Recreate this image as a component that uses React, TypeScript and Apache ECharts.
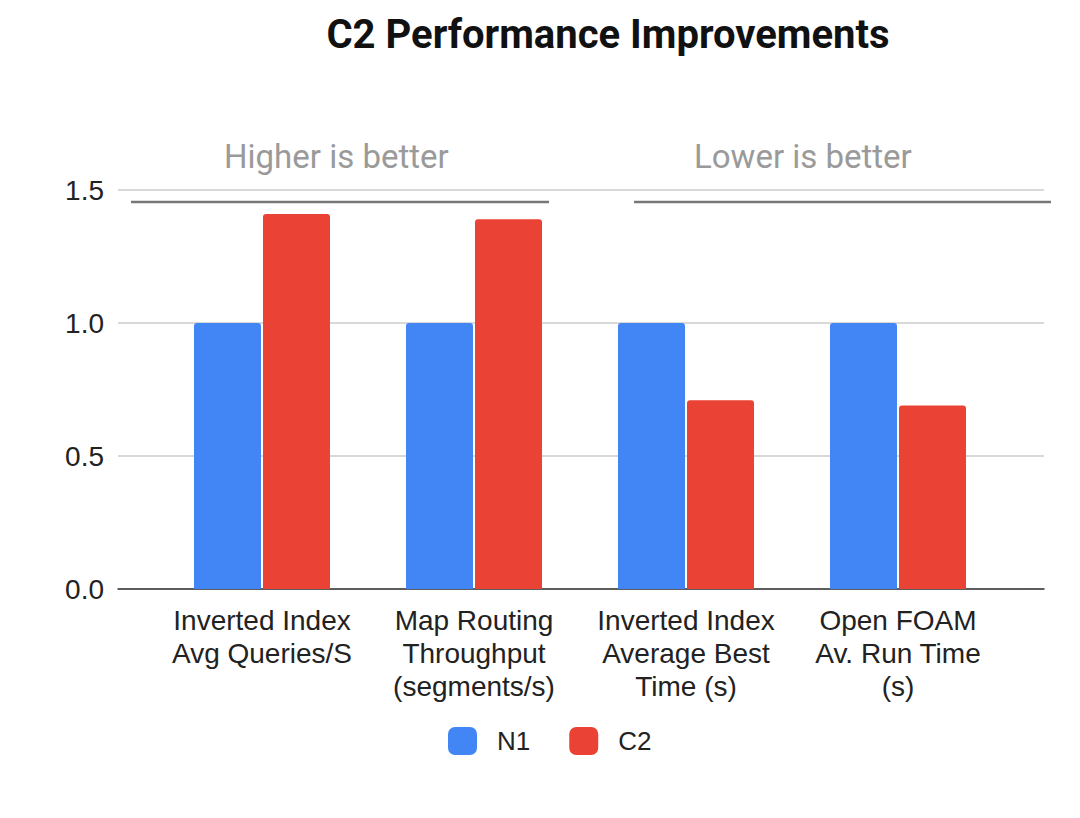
import React, { useEffect, useRef } from "react";
import * as echarts from "echarts";

const categories = [
  "Inverted Index\nAvg Queries/S",
  "Map Routing\nThroughput\n(segments/s)",
  "Inverted Index\nAverage Best\nTime (s)",
  "Open FOAM\nAv. Run Time\n(s)",
];
const n1Values = [1.0, 1.0, 1.0, 1.0];
const c2Values = [1.41, 1.39, 0.71, 0.69];
const yTicks = [0, 0.5, 1.0, 1.5];

const TITLE = "C2 Performance Improvements";
const LEFT_NOTE = "Higher is better";
const RIGHT_NOTE = "Lower is better";

export default function App() {
  const ref = useRef<HTMLDivElement>(null);

  useEffect(() => {
    if (!ref.current) return;
    const chart = echarts.init(ref.current, undefined, { renderer: "svg" });
    const labelFont = "'Liberation Sans', Arial, sans-serif";
    const option: any = {
      animation: false,
      backgroundColor: "#ffffff",
      title: {
        text: TITLE,
        left: 603,
        top: 9,
        textAlign: "center",
        textStyle: {
          fontFamily: "Roboto, sans-serif",
          fontWeight: "bold",
          fontSize: 40,
          color: "#111111",
        },
      },
      legend: {
        left: 448,
        top: 727,
        padding: 0,
        itemWidth: 29,
        itemHeight: 28,
        itemGap: 39,
        icon: "roundRect",
        textStyle: {
          fontFamily: labelFont,
          fontSize: 26,
          color: "#222222",
          padding: [0, 0, 0, 15],
        },
        data: ["N1", "C2"],
      },
      grid: [
        { left: 118, right: 36, top: 190, bottom: 229 },
        { left: 156, right: 76, top: 190, bottom: 229 },
      ],
      xAxis: [
        {
          gridIndex: 0,
          type: "category",
          data: [""],
          axisLabel: { show: false },
          axisTick: { show: false },
          axisLine: { show: true, lineStyle: { color: "#333333", width: 1.5 } },
        },
        {
          gridIndex: 1,
          type: "category",
          data: categories,
          axisTick: { show: false },
          axisLine: { show: false },
          axisLabel: {
            fontFamily: labelFont,
            fontSize: 28,
            lineHeight: 33,
            color: "#222222",
            margin: 15,
            interval: 0,
          },
        },
      ],
      yAxis: [
        {
          gridIndex: 0,
          type: "value",
          min: yTicks[0],
          max: yTicks[yTicks.length - 1],
          interval: 0.5,
          axisLine: { show: false },
          axisTick: { show: false },
          axisLabel: {
            fontFamily: labelFont,
            fontSize: 28,
            color: "#222222",
            margin: 14,
            formatter: (v: number) => v.toFixed(1),
          },
          splitLine: { lineStyle: { color: "#cccccc", width: 1.5 } },
        },
        {
          gridIndex: 1,
          type: "value",
          min: yTicks[0],
          max: yTicks[yTicks.length - 1],
          interval: 0.5,
          show: false,
          splitLine: { show: false },
        },
      ],
      series: [
        {
          name: "N1",
          type: "bar",
          xAxisIndex: 1,
          yAxisIndex: 1,
          data: n1Values,
          barWidth: 67,
          barGap: "3%",
          itemStyle: { color: "#4285F4", borderRadius: [3, 3, 0, 0] },
        },
        {
          name: "C2",
          type: "bar",
          xAxisIndex: 1,
          yAxisIndex: 1,
          data: c2Values,
          barWidth: 67,
          barGap: "3%",
          itemStyle: { color: "#EA4335", borderRadius: [3, 3, 0, 0] },
        },
      ],
      graphic: [
        {
          type: "text",
          left: 224,
          top: 140,
          style: {
            text: LEFT_NOTE,
            fontFamily: "Roboto, sans-serif",
            fontSize: 33,
            fill: "#9a9a9a",
          },
        },
        {
          type: "text",
          left: 694,
          top: 140,
          style: {
            text: RIGHT_NOTE,
            fontFamily: "Roboto, sans-serif",
            fontSize: 33,
            fill: "#9a9a9a",
          },
        },
        {
          type: "line",
          shape: { x1: 131, y1: 202, x2: 549, y2: 202 },
          style: { stroke: "#777777", lineWidth: 2.5 },
        },
        {
          type: "line",
          shape: { x1: 634, y1: 202, x2: 1051, y2: 202 },
          style: { stroke: "#777777", lineWidth: 2.5 },
        },
      ],
    };
    chart.setOption(option);
    return () => chart.dispose();
  }, []);

  return (
    <div
      ref={ref}
      style={{ position: "absolute", left: 0, top: 0, width: 1080, height: 818 }}
    />
  );
}
